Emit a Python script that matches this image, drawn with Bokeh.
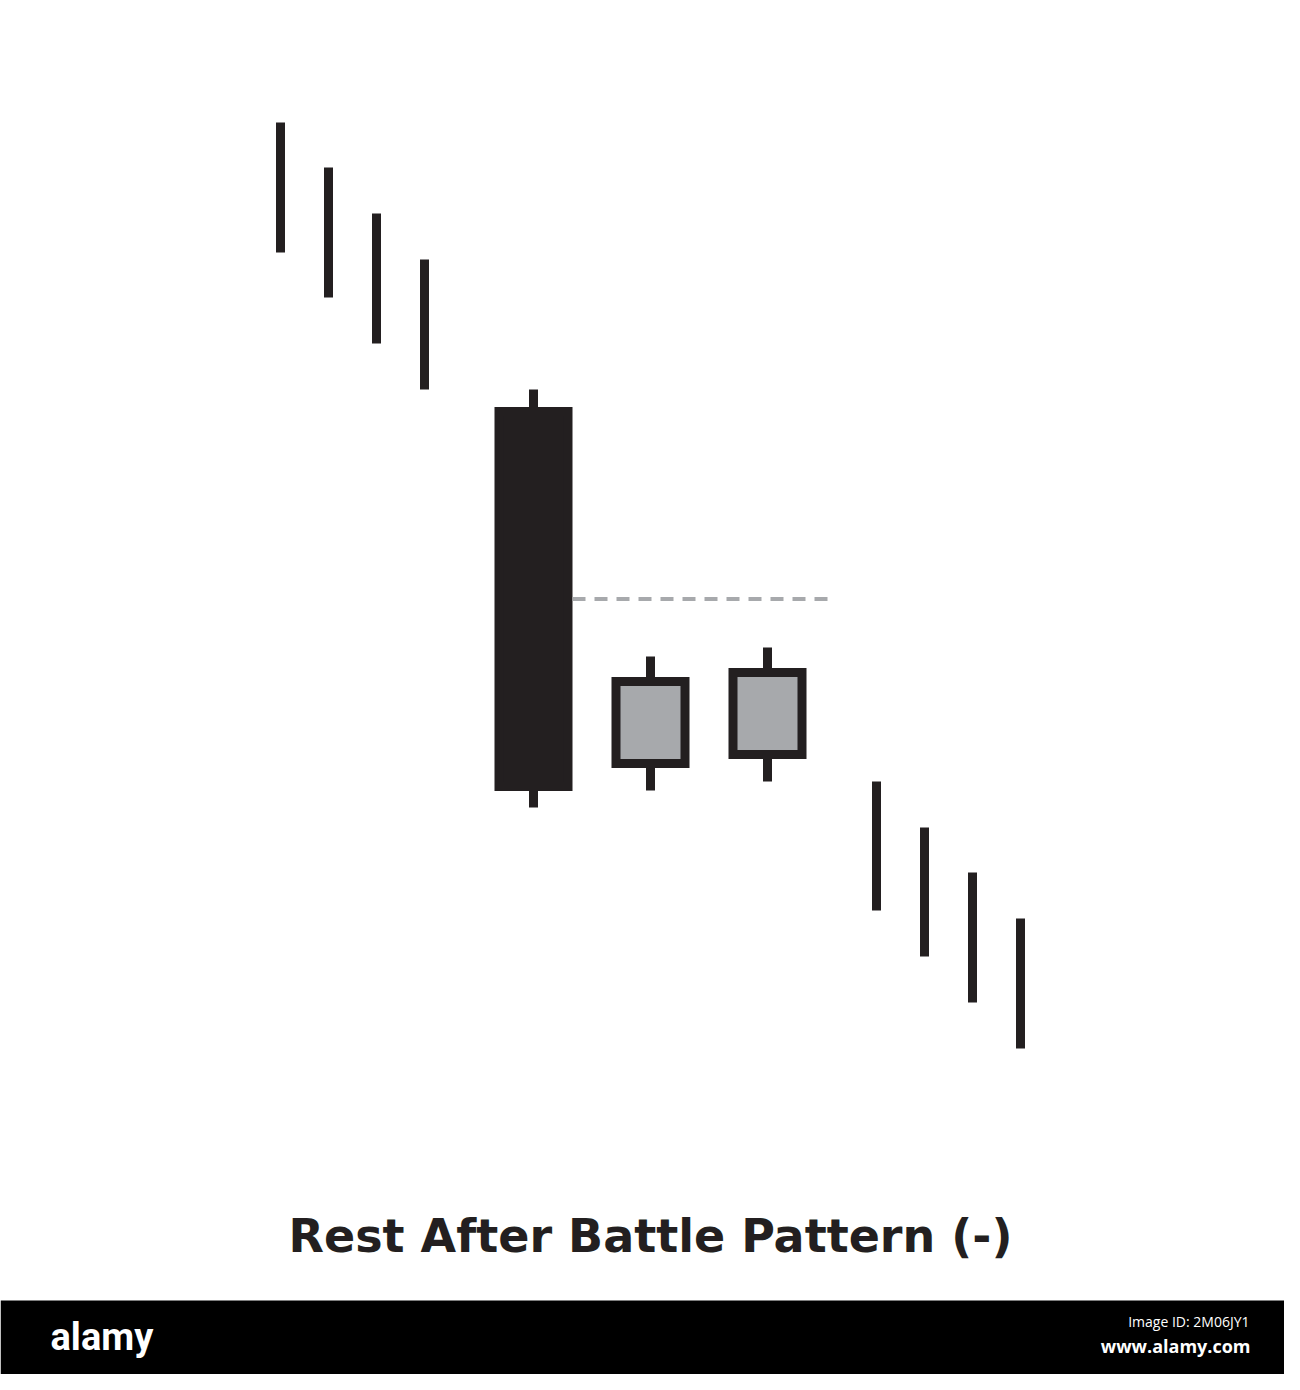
from bokeh.plotting import figure
from bokeh.models import Range1d, Label, BoxAnnotation, ColumnDataSource
from bokeh.embed import file_html
from bokeh.resources import INLINE

# ---- data (price units) ----
lead_high = [107.8, 103.3, 98.7, 94.1]
lead_low = [94.8, 90.3, 85.7, 81.1]

pattern_open = [78.9, 51.9, 52.8]
pattern_close = [41.4, 43.7, 44.6]
pattern_high = [81.1, 54.4, 55.3]
pattern_low = [39.3, 41.0, 41.9]
pattern_fill = ["#231f20", "#a7a9ac", "#a7a9ac"]

trail_high = [41.9, 37.3, 32.8, 28.2]
trail_low = [29.0, 24.4, 19.8, 15.2]

title_text = "Rest After Battle Pattern (-)"

# ---- layout ----
W, H = 1284, 1374
INK = "#231f20"
lead_x = [280 + 48 * i for i in range(4)]
pattern_x = [533 + 117 * i for i in range(3)]
trail_x = [876 + 48 * i for i in range(4)]
BODY_W = 69   # plus 9px stroke -> 78px outer
WICK_W = 9

p = figure(width=W, height=H, output_backend="svg", toolbar_location=None,
           x_range=Range1d(0, 1284), y_range=Range1d(-17.4, 120.0),
           min_border=0, background_fill_color="white", border_fill_color="white")
p.axis.visible = False
p.grid.visible = False
p.outline_line_color = None

# leading and trailing bars (high-low only)
p.segment(x0=lead_x, y0=lead_low, x1=lead_x, y1=lead_high,
          line_color=INK, line_width=WICK_W, line_cap="butt")
p.segment(x0=trail_x, y0=trail_low, x1=trail_x, y1=trail_high,
          line_color=INK, line_width=WICK_W, line_cap="butt")

# pattern wicks
p.segment(x0=pattern_x, y0=pattern_low, x1=pattern_x, y1=pattern_high,
          line_color=INK, line_width=WICK_W, line_cap="butt")

# pattern bodies
src = ColumnDataSource(dict(x=pattern_x,
                            top=[max(o, c) for o, c in zip(pattern_open, pattern_close)],
                            bottom=[min(o, c) for o, c in zip(pattern_open, pattern_close)],
                            fill=pattern_fill))
p.vbar(x="x", top="top", bottom="bottom", width=BODY_W, source=src,
       fill_color="fill", line_color=INK, line_width=9, line_join="miter")

# dashed midpoint line of the first (long black) candle
mid = (pattern_open[0] + pattern_close[0]) / 2
x_start = pattern_x[0] + (BODY_W + 9) / 2
p.line(x=[x_start, 832], y=[mid, mid], line_color="#a7a9ac", line_width=4,
       line_dash="13 9")

# title
p.add_layout(Label(x=650, y=-3.5, text=title_text, text_align="center",
                   text_baseline="alphabetic", text_font="DejaVu Sans",
                   text_font_style="bold", text_font_size="46px", text_color=INK))

# bottom watermark band
p.add_layout(BoxAnnotation(top=-10, fill_color="black", fill_alpha=1.0,
                           line_color=None, level="overlay"))
p.add_layout(Label(x=50, y=-13.6, text="alamy", text_align="left",
                   text_baseline="alphabetic", text_font="Roboto",
                   text_font_style="bold", text_font_size="38px", text_color="white",
                   level="overlay"))
p.add_layout(Label(x=1249, y=-12.1, text="Image ID: 2M06JY1", text_align="right",
                   text_baseline="alphabetic", text_font="Open Sans",
                   text_font_size="14px", text_color="white", level="overlay"))
p.add_layout(Label(x=1250, y=-14.5, text="www.alamy.com", text_align="right",
                   text_baseline="alphabetic", text_font="Open Sans",
                   text_font_style="bold", text_font_size="18px", text_color="white",
                   level="overlay"))

open("out.html", "w").write(file_html(p, INLINE))
